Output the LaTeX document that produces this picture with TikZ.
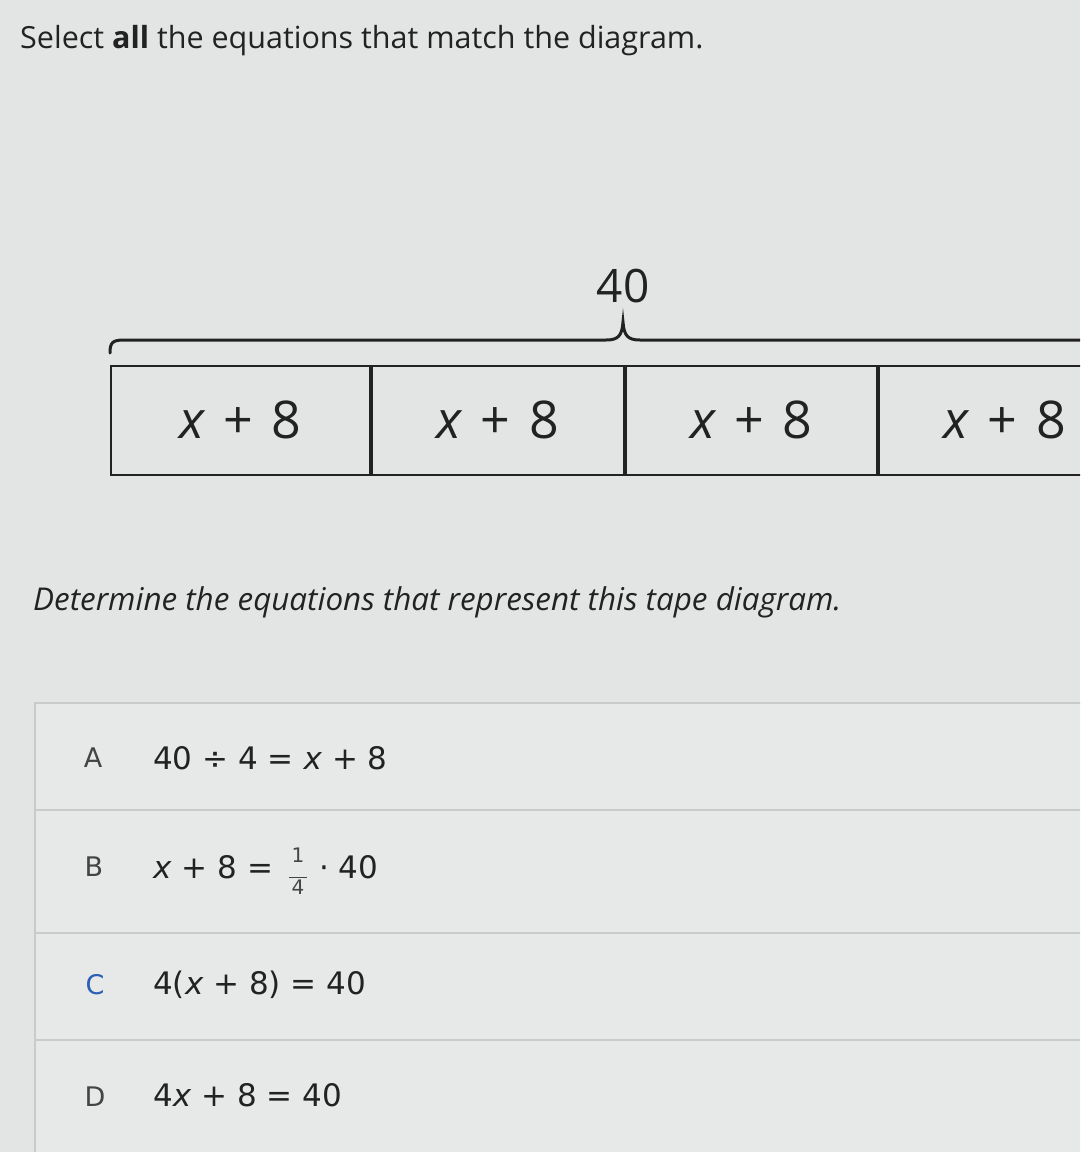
\documentclass[tikz,border=0pt]{standalone}
\usepackage{fontspec}
\setmainfont{Open Sans}
\newfontfamily\optfont{DejaVu Sans}
\definecolor{bg}{HTML}{E3E5E5}
\definecolor{optbg}{HTML}{E7E9E9}
\definecolor{ink}{HTML}{222222}
\definecolor{rule}{HTML}{C9CBCB}
\definecolor{letter}{HTML}{444444}
\definecolor{selblue}{HTML}{2B5FB3}
\newcommand{\tapelab}{\itshape x\upshape\hspace{19pt}+\hspace{19pt}8}
\tikzset{
  cell/.style={draw=ink, line width=2pt, minimum height=109pt, inner sep=0pt, anchor=west,
    font=\fontsize{52}{60}\selectfont, text=ink},
  letterlab/.style={anchor=base, font=\optfont\fontsize{27}{32}\selectfont, text=letter},
  eqlab/.style={anchor=base west, font=\optfont\fontsize{31}{36}\selectfont, text=ink, inner sep=0pt},
}
\begin{document}
\begin{tikzpicture}[x=1pt,y=-1pt]
\useasboundingbox (0,0) rectangle (1080,1152);
\clip (0,0) rectangle (1080,1152);
\fill[bg] (0,0) rectangle (1080,1152);
% title
\node[anchor=base west, inner sep=0pt, text=ink, font=\fontsize{30.5}{36}\selectfont] (title) at (20,48)
  {Select \textbf{all} the equations that match the diagram.};
% total label and brace
\node[anchor=base, inner sep=0pt, text=ink, font=\fontsize{46}{54}\selectfont] (total) at (623,302) {40};
\coordinate (bl) at (110,353);
\coordinate (tip) at (623,322);
\coordinate (br) at (1090,340);
\draw[ink, line width=3pt, line cap=round]
  (bl) .. controls (110,343) and (112,340) .. (124,340) -- (606,340)
  .. controls (618,340) and (622,336) .. (tip)
  .. controls (624,336) and (628,340) .. (640,340) -- (br);
% tape
\node[cell, minimum width=259pt] (c1) at (110,420) {\tapelab};
\node[cell, minimum width=252pt] (c2) at (c1.east) {\tapelab};
\node[cell, minimum width=251pt] (c3) at (c2.east) {\tapelab};
\node[cell, minimum width=252pt] (c4) at (c3.east) {\tapelab};
% prompt
\node[anchor=base west, inner sep=0pt, text=ink, font=\itshape\fontsize{31.4}{36}\selectfont] (prompt) at (33,610)
  {Determine the equations that represent this tape diagram.};
% options box
\fill[optbg] (35,703) rectangle (1090,1160);
\draw[rule, line width=1.5pt] (1090,703) -- (35,703) -- (35,1160);
\draw[rule, line width=1.5pt] (35,810) -- (1090,810);
\draw[rule, line width=1.5pt] (35,933) -- (1090,933);
\draw[rule, line width=1.5pt] (35,1040) -- (1090,1040);
\node[letterlab] (la) at (93,767) {A};
\node[letterlab] (lb) at (94,876) {B};
\node[letterlab, text=selblue] (lc) at (95,994) {C};
\node[letterlab] (ld) at (95,1106) {D};
\node[eqlab] (ea) at (153,769) {40 ÷ 4 = \textit{x} + 8};
\node[eqlab] (eb) at (153,878) {\textit{x} + 8 =\hspace{16pt}\raisebox{-2pt}{$\vcenter{\hbox{\fontsize{20}{22}\selectfont\color{letter}\begin{tabular}{@{}c@{}}1\\[-6pt]\rule{18pt}{1pt}\\[-6pt]4\end{tabular}}}$}\hspace{12pt}·\hspace{10pt}40};
\node[eqlab] (ec) at (153,994) {4(\textit{x} + 8) = 40};
\node[eqlab] (ed) at (153,1106) {4\textit{x} + 8 = 40};
\end{tikzpicture}
\end{document}
